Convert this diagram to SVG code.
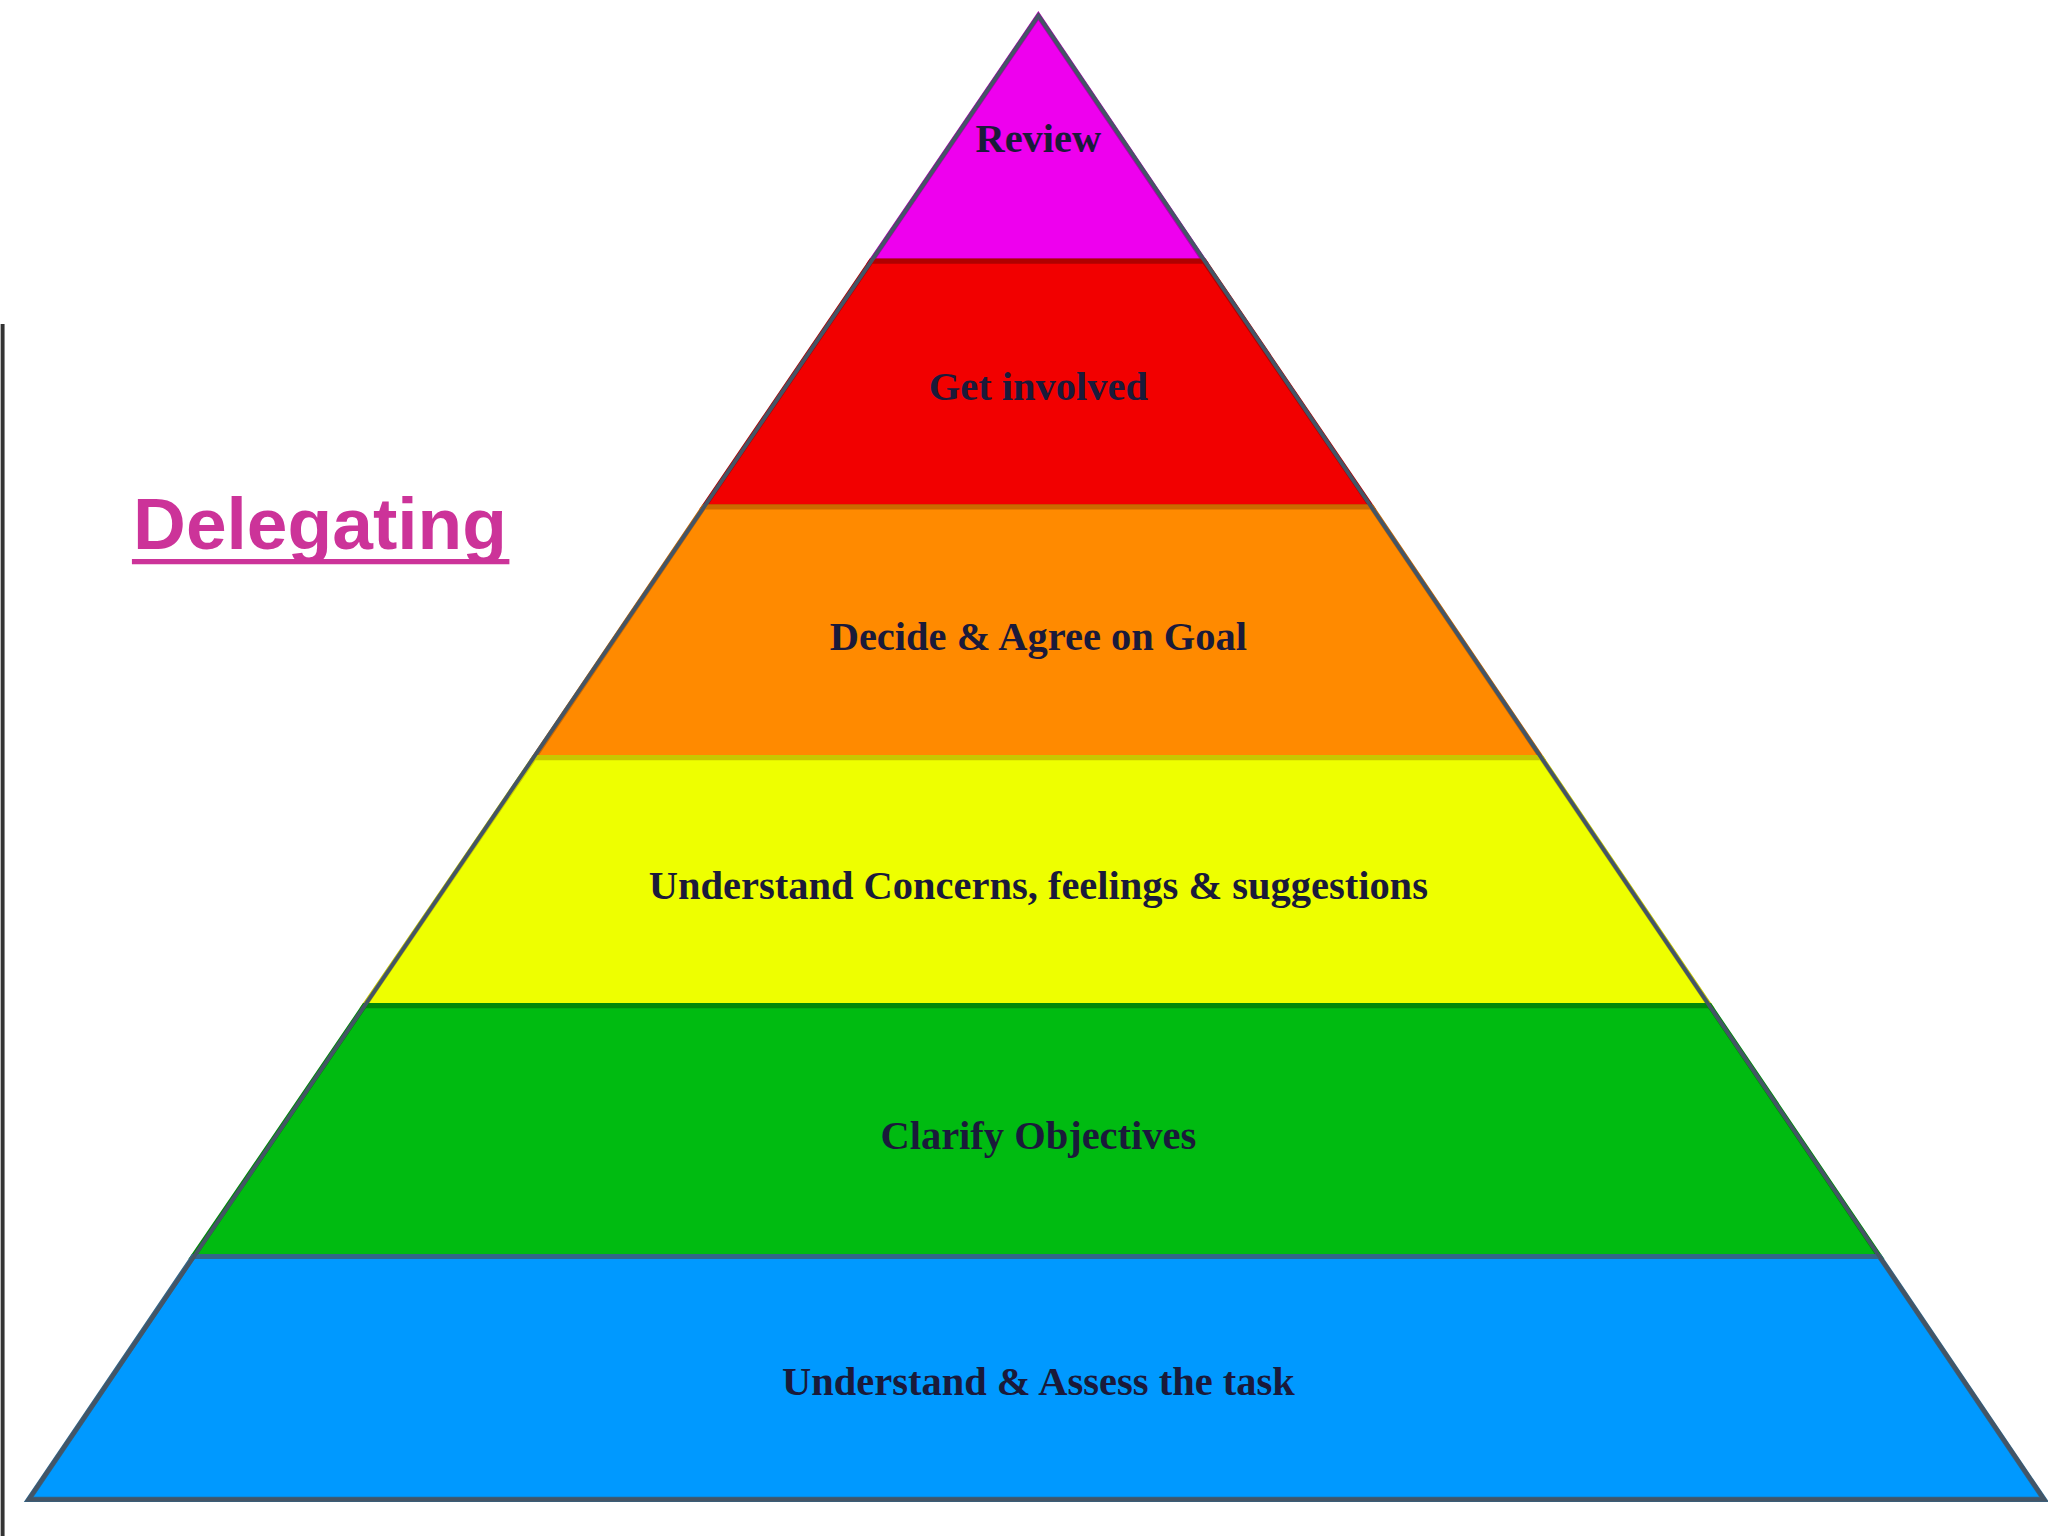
<svg xmlns="http://www.w3.org/2000/svg" width="2048" height="1536" viewBox="0 0 2048 1536">
<style>
.lbl{font-family:"Liberation Serif",serif;font-weight:bold;font-size:31px;fill:#1a1a3a;text-anchor:middle}
.band{stroke-width:4}
</style>
<rect width="2048" height="1536" fill="#ffffff"/>
<g transform="scale(1.30612)">
<line x1="2" y1="248" x2="2" y2="1176" stroke="#333" stroke-width="3"/>
<g id="title"><text x="245" y="420" font-family="Liberation Sans,Arial,sans-serif" font-weight="bold" font-size="56" fill="#cc3399" text-anchor="middle">Delegating</text>
<line x1="101" y1="430" x2="390" y2="430" stroke="#cc3399" stroke-width="4"/></g>
<g id="review"><polygon class="band" points="795,12 922,200 667,200" fill="#ee00ee" stroke="#aa00aa"/><text class="lbl" x="795" y="116">Review</text></g>
<g id="involved"><polygon class="band" points="667,200 922,200 1050,388 539,388" fill="#f20000" stroke="#b00000"/><text class="lbl" x="795" y="306">Get involved</text></g>
<g id="decide"><polygon class="band" points="539,388 1050,388 1180,580 409,580" fill="#ff8a00" stroke="#cc6a00"/><text class="lbl" x="795" y="498">Decide &amp; Agree on Goal</text></g>
<g id="concerns"><polygon class="band" points="409,580 1180,580 1309,770 279,770" fill="#eeff00" stroke="#c8c800"/><text class="lbl" x="795" y="688">Understand Concerns, feelings &amp; suggestions</text></g>
<g id="clarify"><polygon class="band" points="279,770 1309,770 1439,962 148,962" fill="#00bb11" stroke="#00880a"/><text class="lbl" x="795" y="880">Clarify Objectives</text></g>
<g id="assess"><polygon class="band" points="148,962 1439,962 1565,1148 22,1148" fill="#0099ff" stroke="#336688"/><text class="lbl" x="795" y="1068">Understand &amp; Assess the task</text></g>
<polygon points="795,12 1565,1148 22,1148" fill="none" stroke="#445566" stroke-width="3"/>
</g>
</svg>
